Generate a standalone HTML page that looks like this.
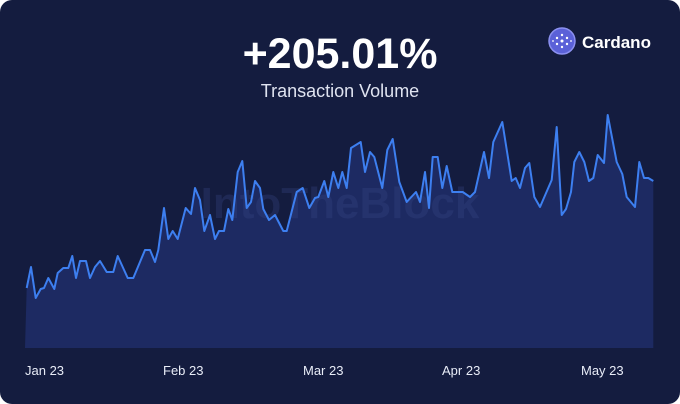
<!DOCTYPE html>
<html><head><style>
html,body{margin:0;padding:0;background:#fff;}
.card{position:relative;width:680px;height:404px;background:#141c3f;border-radius:12px;overflow:hidden;font-family:"Liberation Sans",sans-serif;color:#fff;}
.t{position:absolute;left:0;width:680px;text-align:center;}
</style></head><body>
<div class="card">
<svg width="680" height="404" style="position:absolute;left:0;top:0">
<polygon fill="#1d2a62" points="25,348 26.7,288 31,267 35.7,298 40.7,289 44,288 48.3,278 54.3,289 57.7,273 63.3,268 68.3,268 72.3,256 76,278 80,261 86,261 90,278 95,267 100,261 106.7,272 113.3,272 117.7,256 127.7,278 133.3,278 145,250 150,250 155,262 158.3,250 164,208 168.3,239 172.7,231 177.7,239 185.7,208 191,214 195,188 200,200 204.3,231 210,215 215,239 219,231 224,231 228.3,209 232.3,220 237.7,172 242.3,161 246.7,208 251,202 255,181 260,188 263.3,209 269,220 275,215 283.3,231 286.7,231 296.7,192 302.7,188 309.3,208 315,198 318.3,197 324.3,181 328.3,197 333.3,172 338.3,188 342.3,172 346.7,188 351,148 360.7,142 365,172 370,152 374.3,157 382.3,188 387.3,150 392.7,139 399.3,182 406.7,202 416,192 420,202 425,172 429,208 432.7,157 437.7,157 442.3,188 446.7,166 452.3,192 462.7,192 470,197 475,192 484,152 489,178 493.3,142 502.3,122 511.7,181 515.7,178 520,188 525,168 529.3,163 534.3,197 540,207 551.7,180 556.7,127 561.7,215 566,209 571,192 574.3,162 579.3,152 584.3,162 589,181 593.3,178 597.7,155 604,163 607.7,115 616.7,162 622.3,174 626.7,197 635,207 639.3,162 644,178 648.3,178 653.3,181 653.3,348"/>
<text x="340" y="218" text-anchor="middle" font-family="Liberation Sans" font-weight="bold" font-size="44" fill="#3a4888" opacity="0.3">IntoTheBlock</text>
<polyline fill="none" stroke="#3d7ff0" stroke-width="2" stroke-linejoin="round" points="26.7,288 31,267 35.7,298 40.7,289 44,288 48.3,278 54.3,289 57.7,273 63.3,268 68.3,268 72.3,256 76,278 80,261 86,261 90,278 95,267 100,261 106.7,272 113.3,272 117.7,256 127.7,278 133.3,278 145,250 150,250 155,262 158.3,250 164,208 168.3,239 172.7,231 177.7,239 185.7,208 191,214 195,188 200,200 204.3,231 210,215 215,239 219,231 224,231 228.3,209 232.3,220 237.7,172 242.3,161 246.7,208 251,202 255,181 260,188 263.3,209 269,220 275,215 283.3,231 286.7,231 296.7,192 302.7,188 309.3,208 315,198 318.3,197 324.3,181 328.3,197 333.3,172 338.3,188 342.3,172 346.7,188 351,148 360.7,142 365,172 370,152 374.3,157 382.3,188 387.3,150 392.7,139 399.3,182 406.7,202 416,192 420,202 425,172 429,208 432.7,157 437.7,157 442.3,188 446.7,166 452.3,192 462.7,192 470,197 475,192 484,152 489,178 493.3,142 502.3,122 511.7,181 515.7,178 520,188 525,168 529.3,163 534.3,197 540,207 551.7,180 556.7,127 561.7,215 566,209 571,192 574.3,162 579.3,152 584.3,162 589,181 593.3,178 597.7,155 604,163 607.7,115 616.7,162 622.3,174 626.7,197 635,207 639.3,162 644,178 648.3,178 653.3,181"/>
<g font-family="Liberation Sans" font-size="13" fill="#e8ecf7">
<text x="25" y="375">Jan 23</text>
<text x="163" y="375">Feb 23</text>
<text x="303" y="375">Mar 23</text>
<text x="442" y="375">Apr 23</text>
<text x="581" y="375">May 23</text>
</g>
<circle cx="562" cy="41" r="13" fill="#5b61d8" stroke="#8b90f0" stroke-width="1.5"/>
<g fill="#fff"><circle cx="562" cy="41" r="1.5"/><circle cx="557" cy="38" r="1.2"/><circle cx="567" cy="38" r="1.2"/><circle cx="557" cy="44" r="1.2"/><circle cx="567" cy="44" r="1.2"/><circle cx="562" cy="35" r="1.2"/><circle cx="562" cy="47" r="1.2"/><circle cx="553" cy="41" r="0.9"/><circle cx="571" cy="41" r="0.9"/></g>
<text x="582" y="48" font-family="Liberation Sans" font-weight="bold" font-size="17" fill="#fff">Cardano</text>
</svg>
<div class="t" style="top:30px;font-size:43px;font-weight:bold;">+205.01%</div>
<div class="t" style="top:81px;font-size:18px;color:#dfe3f0;">Transaction Volume</div>
</div>
</body></html>
